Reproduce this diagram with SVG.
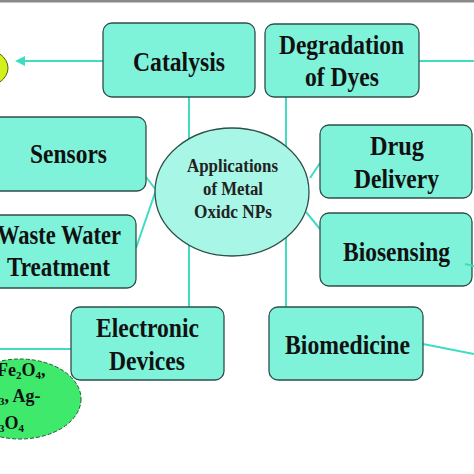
<svg xmlns="http://www.w3.org/2000/svg" width="474" height="474" viewBox="0 0 474 474">
<defs>
<style>
.box{fill:#7ff3da;stroke:#2f4f4a;stroke-width:1.3}
.hub{fill:#a8f6e6;stroke:#2f4f4a;stroke-width:1.3}
.lbl{font-family:"Liberation Serif","Times New Roman",serif;font-weight:bold;font-size:28px;fill:#111;text-anchor:middle}
.hubt{font-family:"Liberation Serif","Times New Roman",serif;font-weight:bold;font-size:18px;fill:#222;text-anchor:middle}
.gt{font-family:"Liberation Serif","Times New Roman",serif;font-weight:bold;font-size:18px;fill:#111}
.sub{font-size:11px}
.con{stroke:#3fdcc2;stroke-width:2;fill:none}
</style>
<marker id="arr" viewBox="0 0 10 10" refX="1" refY="5" markerWidth="5" markerHeight="5" orient="auto-start-reverse">
<path d="M0,0 L10,5 L0,10 z" fill="#3fdcc2"/>
</marker>
</defs>
<rect x="0" y="0" width="474" height="474" fill="#ffffff"/>
<rect x="0" y="0" width="474" height="2.5" fill="#8a8a8a"/>
<g id="connectors">
<line class="con" x1="189" y1="97" x2="189" y2="307"/>
<line class="con" x1="286" y1="97" x2="286" y2="307"/>
<line class="con" x1="103" y1="61" x2="24" y2="61" marker-end="url(#arr)"/>
<line class="con" x1="419" y1="61" x2="474" y2="61"/>
<line class="con" x1="146" y1="177" x2="156" y2="190"/>
<line class="con" x1="136" y1="248" x2="156" y2="190"/>
<line class="con" x1="310" y1="178" x2="320" y2="163"/>
<line class="con" x1="306" y1="212" x2="320" y2="229"/>
<line class="con" x1="0" y1="349" x2="71" y2="349"/>
<line class="con" x1="423" y1="344" x2="474" y2="354"/>
</g>
<g id="yellow-node"><ellipse cx="-20" cy="68" rx="28" ry="20" fill="#d3f01c" stroke="#55600a" stroke-width="1"/></g>
<g id="green-node">
<ellipse cx="20" cy="399" rx="61" ry="40" fill="#3ee96c" stroke="#1f5a30" stroke-width="1" stroke-dasharray="4,2"/>
<text class="gt" x="-3" y="376">Fe<tspan class="sub" dy="3">2</tspan><tspan dy="-3">O</tspan><tspan class="sub" dy="3">4</tspan><tspan dy="-3">,</tspan></text>
<text class="gt" x="-1" y="402"><tspan class="sub" dy="3">3</tspan><tspan dy="-3">, Ag-</tspan></text>
<text class="gt" x="-1" y="429"><tspan class="sub" dy="3">3</tspan><tspan dy="-3">O</tspan><tspan class="sub" dy="3">4</tspan></text>
</g>
<g id="catalysis"><rect class="box" x="103" y="23" width="152" height="74" rx="9"/>
<text class="lbl" x="179" y="71" textLength="92" lengthAdjust="spacingAndGlyphs">Catalysis</text></g>
<g id="degradation"><rect class="box" x="265" y="24" width="154" height="73" rx="9"/>
<text class="lbl" x="341.5" y="54" textLength="125" lengthAdjust="spacingAndGlyphs">Degradation</text>
<text class="lbl" x="342" y="86" textLength="74" lengthAdjust="spacingAndGlyphs">of Dyes</text></g>
<g id="sensors"><rect class="box" x="-12" y="117" width="158" height="74" rx="9"/>
<text class="lbl" x="68.5" y="163" textLength="77" lengthAdjust="spacingAndGlyphs">Sensors</text></g>
<g id="wastewater"><rect class="box" x="-12" y="215" width="148" height="73" rx="9"/>
<text class="lbl" x="59" y="244" textLength="124" lengthAdjust="spacingAndGlyphs">Waste Water</text>
<text class="lbl" x="58.5" y="276" textLength="103" lengthAdjust="spacingAndGlyphs">Treatment</text></g>
<g id="drugdelivery"><rect class="box" x="320" y="125" width="152" height="73" rx="9"/>
<text class="lbl" x="397" y="155" textLength="54" lengthAdjust="spacingAndGlyphs">Drug</text>
<text class="lbl" x="396.5" y="188" textLength="85" lengthAdjust="spacingAndGlyphs">Delivery</text></g>
<g id="biosensing"><rect class="box" x="320" y="213" width="152" height="73" rx="9"/>
<text class="lbl" x="396.5" y="261" textLength="107" lengthAdjust="spacingAndGlyphs">Biosensing</text></g>
<line class="con" x1="465" y1="264" x2="474" y2="266"/>
<g id="electronic"><rect class="box" x="71" y="307" width="153" height="73" rx="9"/>
<text class="lbl" x="147.5" y="337" textLength="103" lengthAdjust="spacingAndGlyphs">Electronic</text>
<text class="lbl" x="147" y="370" textLength="76" lengthAdjust="spacingAndGlyphs">Devices</text></g>
<g id="biomedicine"><rect class="box" x="269" y="307" width="154" height="73" rx="9"/>
<text class="lbl" x="347.5" y="354" textLength="125" lengthAdjust="spacingAndGlyphs">Biomedicine</text></g>
<g id="hub"><ellipse class="hub" cx="232" cy="192" rx="77" ry="64"/>
<text class="hubt" x="232.5" y="172" textLength="91" lengthAdjust="spacingAndGlyphs">Applications</text>
<text class="hubt" x="233" y="195" textLength="60" lengthAdjust="spacingAndGlyphs">of Metal</text>
<text class="hubt" x="233" y="218" textLength="78" lengthAdjust="spacingAndGlyphs">Oxidc NPs</text></g>
</svg>
